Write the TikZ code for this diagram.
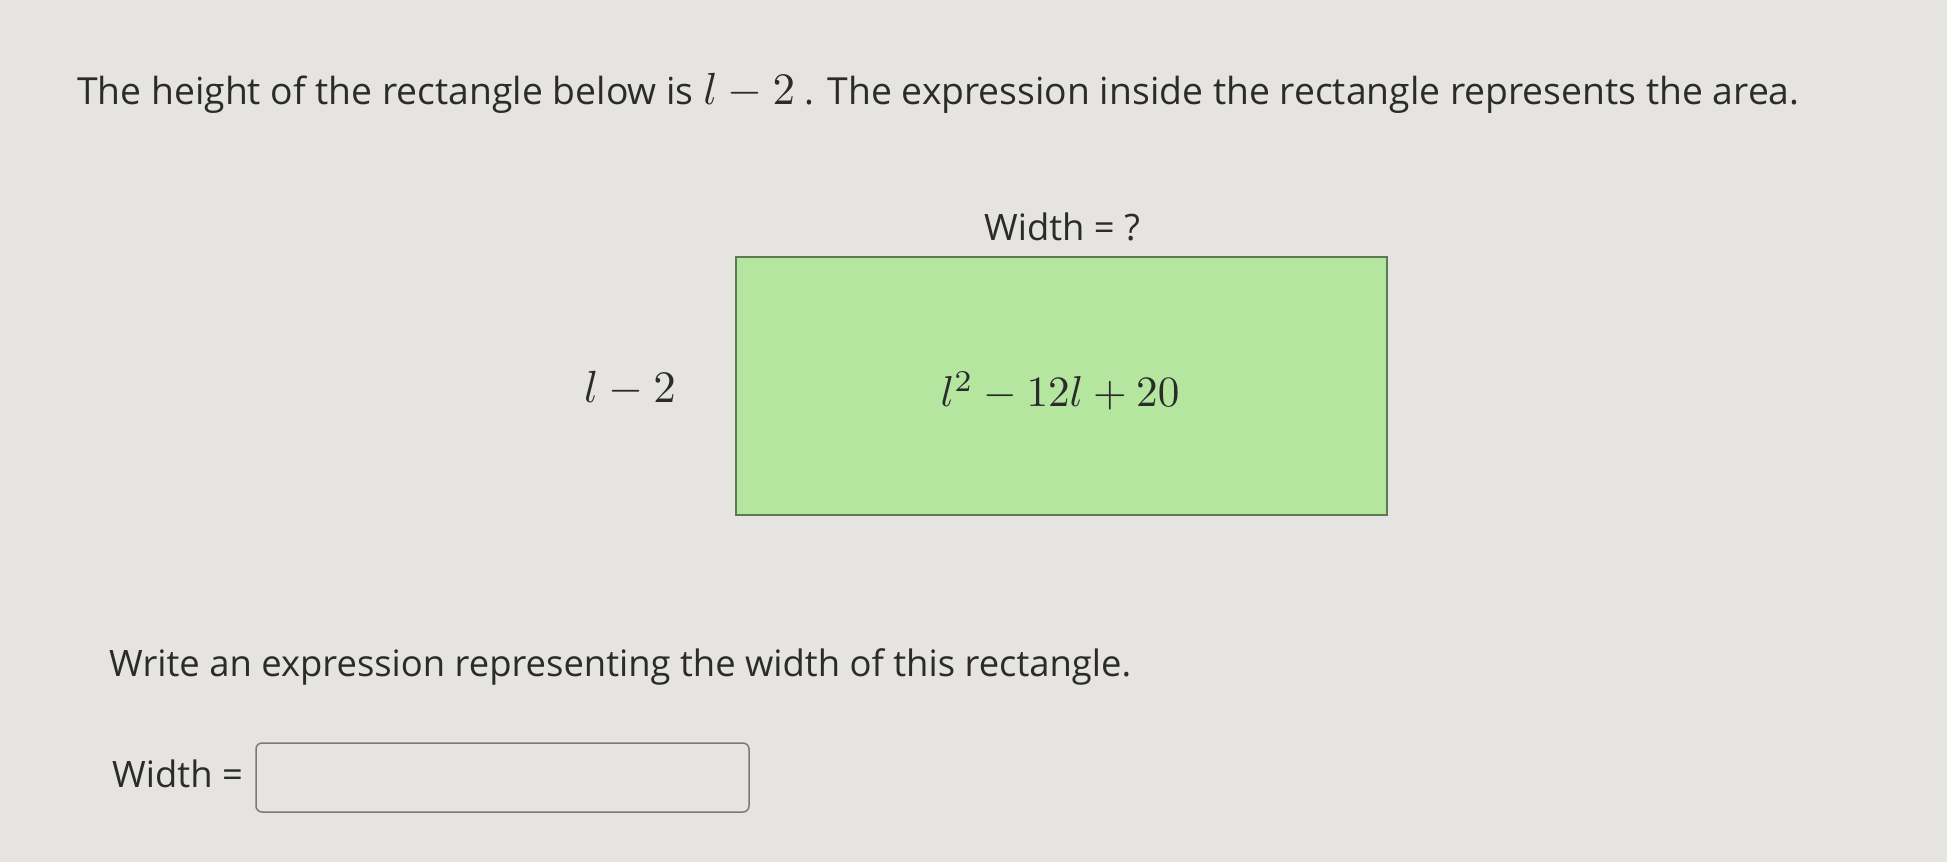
\documentclass[tikz,border=0pt]{standalone}
\usepackage{graphicx}
\usepackage{fontspec}
\setmainfont{Open Sans}
\definecolor{bg}{HTML}{E5E4E1}
\definecolor{txt}{HTML}{2B2B2B}
\definecolor{greenfill}{HTML}{B4E6A0}
\definecolor{greenedge}{HTML}{5E7A55}
\definecolor{boxedge}{HTML}{7A7A7A}
\newcommand{\bigmath}[1]{\scalebox{4.5}{\fontsize{10}{12}\selectfont$#1$}}
\tikzset{
  body/.style={text=txt, inner sep=0pt, font=\fontsize{36.4}{44}\selectfont},
  titletext/.style={text=txt, inner sep=0pt, font=\fontsize{37.3}{45}\selectfont},
  mathlbl/.style={text=txt, inner sep=0pt, font=\fontsize{10}{12}\selectfont, scale=4.5},
  areabox/.style={fill=greenfill, draw=greenedge, line width=1.5pt},
  inputbox/.style={fill=bg, draw=boxedge, line width=1.5pt, rounded corners=6pt}
}
\begin{document}
\begin{tikzpicture}[x=1pt,y=-1pt]
\useasboundingbox (0,0) rectangle (1947,862);
\fill[bg] (0,0) rectangle (1947,862);
\node[titletext, anchor=west] (title) at (77,93) {The height of the rectangle below is \bigmath{l-2} . The expression inside the rectangle represents the area.};
\node[body] (wq) at (1062,227) {Width = ?};
\draw[areabox] (736,257) rectangle (1387,515);
\node[mathlbl] (height) at (630,389) {$l-2$};
\node[mathlbl, scale=0.96] (area) at (1060,391) {$l^2-12l+20$};
\node[body, anchor=west] (write) at (109,667) {Write an expression representing the width of this rectangle.};
\node[body, anchor=west] (wlbl) at (112,774) {Width =};
\draw[inputbox] (256,743) rectangle (749,812);
\end{tikzpicture}
\end{document}
